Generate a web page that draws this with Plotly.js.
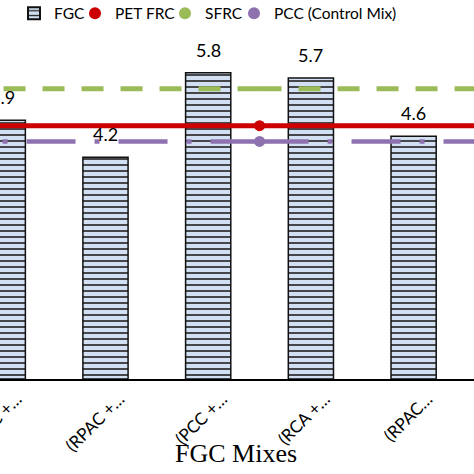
<!DOCTYPE html>
<html><head><meta charset="utf-8">
<script src="https://cdn.plot.ly/plotly-3.0.1.min.js"></script>
<style>html,body{margin:0;padding:0;background:#fff}#chart{width:474px;height:474px}</style>
</head><body><div id="chart"></div>
<script>
// Data
const mixLabels = ["(PCC +…", "(RPAC +…", "(PCC +…", "(RCA +…", "(RPAC…"];
const mixIndex = [0, 1, 2, 3, 4];
const fgcValues = [4.9, 4.2, 5.8, 5.7, 4.6];
const petFrc = 4.8;
const sfrc = 5.5;
const pccControl = 4.5;
const refMarkerX = [2.5];
const refLeftX = [2.5, -0.5];
const refRightX = [2.5, 5.0];

const sansFont = "Lato, 'Open Sans', sans-serif";
const labelFont = {family: sansFont, size: 18, color: "#000"};
const legendFont = {family: sansFont, size: 15.5, color: "#000"};

function refLine(xs, yv, color, width, dash) {
  return {type: "scatter", mode: "lines", x: xs, y: xs.map(() => yv), showlegend: false,
    hoverinfo: "skip", line: {color: color, width: width, dash: dash}};
}

const traces = [
  {
    type: "bar", name: "FGC", x: mixIndex, y: fgcValues, width: 0.44, legend: "legend",
    marker: {color: "#d3e0f3", line: {color: "#111", width: 1.5},
      pattern: {shape: "-", fgcolor: "#2a2a2a", bgcolor: "#d3e0f3", size: 6, solidity: 0.28}}
  },
  refLine(refLeftX, sfrc, "#9bbb59", 5, "22px,17px"),
  refLine(refRightX, sfrc, "#9bbb59", 5, "22px,17px"),
  refLine(refLeftX, pccControl, "#8e72b0", 4.5, "49px,19px,5px,19px"),
  refLine(refRightX, pccControl, "#8e72b0", 4.5, "49px,19px,5px,19px"),
  refLine(refLeftX.concat(refRightX.slice(1)), petFrc, "#cc0000", 5, "solid"),
  {type: "scatter", mode: "markers", name: "PET FRC", legend: "legend2", x: refMarkerX, y: refMarkerX.map(() => petFrc),
   marker: {color: "#cc0000", size: 11}},
  {type: "scatter", mode: "markers", name: "SFRC", legend: "legend3", x: refMarkerX, y: refMarkerX.map(() => sfrc),
   marker: {color: "#9bbb59", size: 4}},
  {type: "scatter", mode: "markers", name: "PCC (Control Mix)", legend: "legend4", x: refMarkerX, y: refMarkerX.map(() => pccControl),
   marker: {color: "#8e72b0", size: 11}}
];

const annotations = mixIndex.map((xi, k) => ({
  x: xi, y: fgcValues[k], xref: "x", yref: "y", text: fgcValues[k].toFixed(1),
  showarrow: false, yanchor: "bottom", yshift: 10, font: labelFont
}));
annotations.push({
  xref: "paper", yref: "paper", x: 0.497, y: 0, yshift: -74, yanchor: "middle",
  text: "FGC Mixes", showarrow: false,
  font: {family: "'Liberation Serif', 'Times New Roman', serif", size: 26, color: "#000"}
});

function leg(xpx) {
  return {orientation: "h", x: xpx / 474, y: 1.009, xanchor: "left", yanchor: "top",
    font: legendFont, bgcolor: "rgba(0,0,0,0)", itemwidth: 30, itemsizing: "constant"};
}

const layout = {
  width: 474, height: 474,
  margin: {l: 0, r: 0, t: 0, b: 95, autoexpand: false},
  paper_bgcolor: "#fff", plot_bgcolor: "#fff",
  showlegend: true,
  legend: leg(14), legend2: leg(75), legend3: leg(165), legend4: leg(234),
  xaxis: {range: [-0.027, 4.588], tickvals: mixIndex, ticktext: mixLabels, tickangle: -45,
    showgrid: false, zeroline: false, showline: true, linecolor: "#000", linewidth: 1.5,
    ticks: "", ticklabelshift: 14, ticklabelstandoff: 2, ticklabeloverflow: "allow",
    tickfont: {family: sansFont, size: 17, color: "#000"}},
  yaxis: {range: [0, 7.18], visible: false, showgrid: false, zeroline: false},
  annotations: annotations,
  bargap: 0.56
};

Plotly.newPlot("chart", traces, layout, {staticPlot: true, displayModeBar: false});
</script>
</body></html>
